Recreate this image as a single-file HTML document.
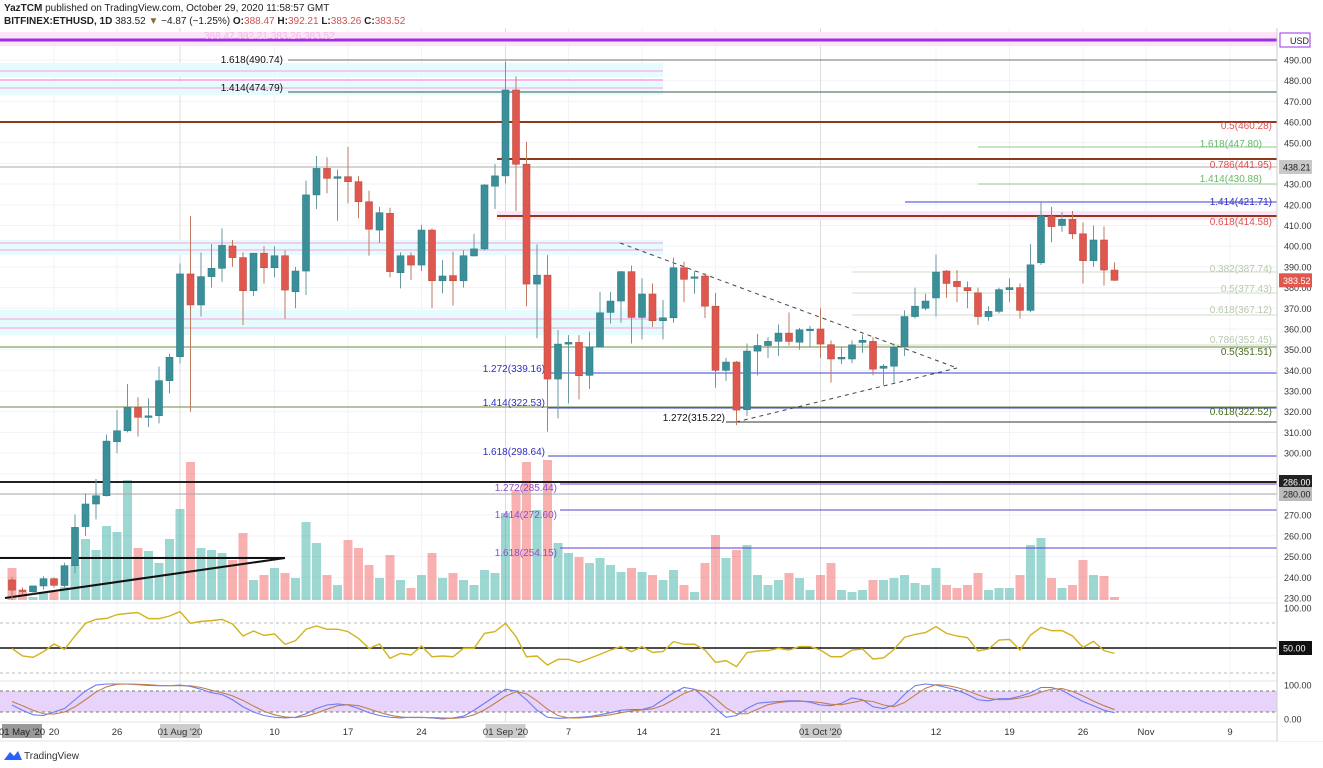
<!DOCTYPE html>
<html><head><meta charset="utf-8"><style>
html,body{margin:0;padding:0;background:#fff;width:1323px;height:768px;overflow:hidden;font-family:"Liberation Sans",sans-serif}
svg text{font-family:"Liberation Sans",sans-serif}
</style></head><body>
<svg id="chart" width="1323" height="768" viewBox="0 0 1323 768" xmlns="http://www.w3.org/2000/svg">
<g id="grid"></g>
<g id="bands">
  <rect x="0" y="32" width="1277" height="14" fill="#fde4f6"/>
  <rect x="0" y="63" width="663" height="14" fill="#e6fbfb"/>
  <rect x="0" y="82" width="663" height="13" fill="#e6fbfb"/>
  <line x1="0" y1="71" x2="663" y2="71" stroke="#ff9be6" stroke-width="1"/>
  <line x1="0" y1="80" x2="663" y2="80" stroke="#ff9be6" stroke-width="1.5"/>
  <line x1="0" y1="88" x2="663" y2="88" stroke="#ff9be6" stroke-width="1"/>
  <rect x="0" y="240" width="663" height="15" fill="#e6fbfb"/>
  <line x1="0" y1="243" x2="663" y2="243" stroke="#ff9be6"/>
  <line x1="0" y1="250" x2="663" y2="250" stroke="#ff9be6"/>
  <rect x="0" y="310" width="663" height="25" fill="#e6fbfb"/>
  <line x1="0" y1="319" x2="663" y2="319" stroke="#ff9be6"/>
  <line x1="0" y1="328" x2="663" y2="328" stroke="#ff9be6"/>
  <rect x="497" y="211" width="780" height="9" fill="#fde4f6"/>
</g>
<g id="vol"></g>
<g id="levels">
  <line x1="0" y1="40" x2="1277" y2="40" stroke="#9b30e6" stroke-width="3"/>
  <line x1="288" y1="60" x2="1277" y2="60" stroke="#707070"/>
  <line x1="288" y1="92" x2="1277" y2="92" stroke="#3a5a4a"/>
  <line x1="0" y1="122" x2="1277" y2="122" stroke="#8b3b1c" stroke-width="2"/>
  <line x1="978" y1="147" x2="1277" y2="147" stroke="#8fc98f"/>
  <line x1="497" y1="159" x2="1277" y2="159" stroke="#8b3b1c" stroke-width="2"/>
  <line x1="0" y1="167" x2="1277" y2="167" stroke="#c8c8c8" stroke-width="1.5"/>
  <line x1="978" y1="184" x2="1277" y2="184" stroke="#8fc98f"/>
  <line x1="905" y1="202" x2="1277" y2="202" stroke="#3f3fd0"/>
  <line x1="497" y1="216" x2="1277" y2="216" stroke="#8b3b1c" stroke-width="2"/>
  <line x1="852" y1="272" x2="1277" y2="272" stroke="#d0dcc8"/>
  <line x1="852" y1="293" x2="1277" y2="293" stroke="#d0dcc8"/>
  <line x1="852" y1="315" x2="1277" y2="315" stroke="#d0dcc8"/>
  <line x1="852" y1="345" x2="1277" y2="345" stroke="#d0dcc8"/>
  <line x1="0" y1="347" x2="1277" y2="347" stroke="#6a8a40"/>
  <line x1="548" y1="373" x2="1277" y2="373" stroke="#3f3fd0"/>
  <line x1="0" y1="407" x2="1277" y2="407" stroke="#6a8a40"/>
  <line x1="548" y1="408" x2="1277" y2="408" stroke="#3f3fd0"/>
  <line x1="726" y1="422" x2="1277" y2="422" stroke="#333"/>
  <line x1="548" y1="456" x2="1277" y2="456" stroke="#3f3fd0"/>
  <line x1="0" y1="482" x2="1277" y2="482" stroke="#222" stroke-width="2"/>
  <line x1="560" y1="484" x2="1277" y2="484" stroke="#7a3fd0"/>
  <line x1="0" y1="494" x2="1277" y2="494" stroke="#aaa"/>
  <line x1="560" y1="510" x2="1277" y2="510" stroke="#5a3fd0"/>
  <line x1="560" y1="548" x2="1277" y2="548" stroke="#5a3fd0"/>
  <line x1="0" y1="558" x2="285" y2="558" stroke="#111" stroke-width="2"/>
  <line x1="5" y1="598" x2="285" y2="558" stroke="#111" stroke-width="2"/>
  <line x1="620" y1="243" x2="957" y2="368" stroke="#444" stroke-dasharray="4,4"/>
  <line x1="736" y1="422" x2="957" y2="368" stroke="#444" stroke-dasharray="4,4"/>
</g>
<g id="levlabels" font-size="10">
  <text x="283" y="63" text-anchor="end" fill="#111">1.618(490.74)</text>
  <text x="283" y="91" text-anchor="end" fill="#111">1.414(474.79)</text>
  <text x="1272" y="129" text-anchor="end" fill="#e05050">0.5(460.28)</text>
  <text x="1262" y="147" text-anchor="end" fill="#6bb86b">1.618(447.80)</text>
  <text x="1272" y="168" text-anchor="end" fill="#e05050">0.786(441.95)</text>
  <text x="1262" y="182" text-anchor="end" fill="#6bb86b">1.414(430.88)</text>
  <text x="1272" y="205" text-anchor="end" fill="#3030c0">1.414(421.71)</text>
  <text x="1272" y="225" text-anchor="end" fill="#e05050">0.618(414.58)</text>
  <text x="1272" y="272" text-anchor="end" fill="#b8c8b0">0.382(387.74)</text>
  <text x="1272" y="292" text-anchor="end" fill="#b8c8b0">0.5(377.43)</text>
  <text x="1272" y="313" text-anchor="end" fill="#b8c8b0">0.618(367.12)</text>
  <text x="1272" y="343" text-anchor="end" fill="#b8c8b0">0.786(352.45)</text>
  <text x="1272" y="355" text-anchor="end" fill="#4a6a20">0.5(351.51)</text>
  <text x="545" y="372" text-anchor="end" fill="#3030c0">1.272(339.16)</text>
  <text x="545" y="406" text-anchor="end" fill="#3030c0">1.414(322.53)</text>
  <text x="1272" y="415" text-anchor="end" fill="#4a6a20">0.618(322.52)</text>
  <text x="725" y="421" text-anchor="end" fill="#111">1.272(315.22)</text>
  <text x="545" y="455" text-anchor="end" fill="#3030c0">1.618(298.64)</text>
  <text x="557" y="491" text-anchor="end" fill="#8a4fd0">1.272(285.44)</text>
  <text x="557" y="518" text-anchor="end" fill="#8a4fd0">1.414(272.60)</text>
  <text x="557" y="556" text-anchor="end" fill="#8a4fd0">1.618(254.15)</text>
</g>
<g id="candles"></g>
<g id="panes">
  <line x1="0" y1="603" x2="1277" y2="603" stroke="#e0e3eb"/>
  <line x1="0" y1="623" x2="1277" y2="623" stroke="#bbb" stroke-dasharray="3,3"/>
  <line x1="0" y1="673" x2="1277" y2="673" stroke="#bbb" stroke-dasharray="3,3"/>
  <line x1="0" y1="648" x2="1277" y2="648" stroke="#111" stroke-width="1.5"/>
  <line x1="0" y1="681" x2="1277" y2="681" stroke="#e0e3eb"/>
  <rect x="0" y="691" width="1277" height="21" fill="#e8d4fb"/>
  <line x1="0" y1="691" x2="1277" y2="691" stroke="#777" stroke-dasharray="3,3"/>
  <line x1="0" y1="712" x2="1277" y2="712" stroke="#777" stroke-dasharray="3,3"/>
  <line x1="0" y1="722" x2="1277" y2="722" stroke="#e0e3eb"/>
  <line x1="0" y1="741" x2="1323" y2="741" stroke="#e0e3eb"/>
</g>
<g id="ind"></g>
<g id="axis">
  <rect x="1277" y="28" width="46" height="713" fill="#fff"/>
  <line x1="1277" y1="28" x2="1277" y2="741" stroke="#ccc"/>
</g>
<g id="xaxis" font-size="10" fill="#333"></g>
<g id="hdr">
  <text x="4" y="11" font-size="10" fill="#222"><tspan font-weight="bold">YazTCM</tspan> published on TradingView.com, October 29, 2020 11:58:57 GMT</text>
  <text x="4" y="24" font-size="10" fill="#222"><tspan font-weight="bold">BITFINEX:ETHUSD, 1D</tspan> 383.52 <tspan fill="#8b6b3b">▼</tspan> −4.87 (−1.25%) <tspan font-weight="bold">O:</tspan><tspan fill="#d05050">388.47</tspan> <tspan font-weight="bold">H:</tspan><tspan fill="#d05050">392.21</tspan> <tspan font-weight="bold">L:</tspan><tspan fill="#d05050">383.26</tspan> <tspan font-weight="bold">C:</tspan><tspan fill="#d05050">383.52</tspan></text>
  <text x="204" y="39" font-size="10" fill="#f5b8ea">388.47   392.21   383.26   383.52</text>
  <rect x="1280" y="33" width="30" height="14" fill="#fff" stroke="#9b30e6"/>
  <text x="1290" y="44" font-size="9" fill="#222">USD</text>
  <g>
    <path d="M4 760 l6 -8 l4 4 l4 -5 l4 9 z" fill="#2962ff"/>
    <text x="24" y="759" font-size="10" fill="#333">TradingView</text>
  </g>
</g>
</svg>
<script>
const opens = [238.7,233.8,233,235.8,239.3,236,245.6,264.5,275.4,279.4,305.5,310.8,322,317.6,318.1,335,
346.6,386.6,371.6,385.3,389.3,400.1,394.5,378.5,396.6,389.6,395.4,378,388,424.8,437.6,432.8,433.6,431.2,421.5,407.8,415.9,387.2,395.4,390.9,407.8,383.3,385.8,383.3,395.3,398.7,429,
434,475.5,439.6,381.7,386,335.8,352.7,353.5,337.6,351.3,368,373.5,387.7,365.6,376.9,364,365.4,389.6,384.5,385.6,371,340,344,321,349.3,352,354,358,353.6,359.6,
360,352.4,345.5,345.5,353.5,354,341,342,351.6,366,370,375,388,383,380,377.5,366,368.5,379,380,369,392,414.5,410,413,406,393,403,388.47];
const highs = [240,235,236,240.5,240,247,270.4,280.6,287.5,309,320.8,333.4,327,326.5,341.8,348,
391.7,414.6,396.9,401,408.6,403,397,396.6,400,400,398,390,431.7,443.6,443,437,448,434,426.8,419,418.6,397,397,410.3,408.6,393.3,397.4,398,406,430,439.7,
489.2,482,450.5,400.9,395.7,359.5,357,357,358.7,378,378,388,390.6,384.5,382,374,394.5,392.5,388,387,377.4,346,344.5,353,357.6,356,362.2,368,360.5,361.5,
370,354.5,351,354.5,357.4,356,343,353,369,380,377,396,388.5,388.5,383,380,371,380,384.5,382,401,421,419,416.5,417,411.5,410,409.5,392.21];
const lows = [229,232,232,234,235,235,242,260,268,279,300,310,308,312.5,314.4,328.9,
343.4,320,366,380,382.8,390,361.9,376,382,385,365,370,376.4,418,425.6,412.3,420.7,413.5,395.4,401.7,385,379.6,383.7,388,370,377.2,371.3,380,395,398,418,
430.4,417,371,355.5,310.4,316.8,324,326,331,351,362.6,363,353,355,361,355,363,373,377,365.3,331.6,335,313.5,318,337.5,346,347,352,350,351,
346,334,343,343.5,348.5,337.6,333,334,347,365,369,366,375,373,370,362,364,367.5,373,365,368,391,402,407,403.5,382,390,381,383.26];
const closes = [233.8,233.5,235.8,239.3,236.1,245.6,264.1,275.4,279.4,305.8,310.8,322,317.3,318,335,346.3,
386.6,371.6,385.3,389.3,400.4,394.5,378.5,396.6,389.6,395.4,378.8,388,424.8,437.6,432.8,433.6,431.2,421.5,408.2,416.2,387.7,395.4,390.9,407.8,383.3,385.6,383.3,395.4,398.7,429.6,434,
475.5,439.6,381.7,386,335.8,352.7,353.5,337.4,351.3,367.8,373.5,387.7,365.6,376.9,364,365.4,389.6,384,385.2,371,340,344,320.8,349.3,352,354,358,354,359.6,359.9,
352.7,345.5,346.3,352.3,354.5,340.6,342,351,366,371,373.5,387.5,382,380.5,378.5,366,368.5,379,380,369,391,414.6,409.5,413,406,393,403,388.5,383.52];
const volumes = [32,8,3,8,8,13,35,61,50,74,68,120,52,49,37,61,
91,138,52,50,47,40,67,20,25,32,27,22,78,57,25,15,60,52,35,22,45,20,12,25,47,22,27,20,15,30,27,
87,110,138,90,140,57,47,43,37,42,35,28,32,28,25,20,30,15,8,37,65,42,50,55,25,15,20,27,22,10,
25,37,10,8,10,20,20,22,25,17,15,32,15,12,15,27,10,12,12,25,55,62,22,12,15,40,25,24,3];
const rsiValues = [49.7,43.6,42.5,47.1,53.2,48.9,59.6,69.7,72.9,73.7,76.7,77.7,78.3,73.5,73.5,75.6,
79.1,69.7,71.3,71.9,72.9,69.2,59.6,63.6,60.1,61.2,52.9,55.9,65,67.6,65,65,63.1,57.7,49.7,53.2,41.7,45.7,44.4,51.6,43,43.6,43,49.7,49.7,61.7,63.1,
69.7,59.1,43,43.6,36.4,40.9,40.9,38.5,41.7,44.9,48.4,51.1,47.1,51.1,46.5,47.1,55.1,53,53,48.4,38.5,39.9,35.1,46.3,47.6,47.9,49.7,48.4,51.1,51.1,
48.4,43,43,48.4,49.2,41.2,42,48.9,58.5,60.9,62.3,67.1,61.7,59.6,58.3,47.6,49.2,56.4,56.9,48.4,60.4,66.5,63.9,63.9,59.6,50.5,55.3,47.9,45.7];
const stochK = [40,25,12,10,20,30,55,80,97,100,100,100,98,96,95,95,
97,93,85,75,70,55,35,20,10,5,3,5,15,30,40,43,40,30,18,10,5,3,5,5,3,0,3,8,25,45,65,
85,80,55,25,5,2,3,5,7,12,18,25,27,27,35,55,75,90,85,60,30,5,10,30,45,48,50,52,52,48,
40,38,45,60,55,35,30,40,70,95,100,97,90,82,70,55,52,58,58,65,75,90,90,82,65,50,38,25,18];
const stochD = [50,38,25,15,14,20,35,55,77,92,99,100,99,98,96,95,
95,95,90,82,75,66,53,37,22,12,6,4,8,17,28,38,41,38,29,19,11,6,4,4,4,3,2,4,12,26,45,
65,78,72,52,28,10,3,3,5,8,12,18,23,26,29,39,55,73,84,78,58,32,15,15,28,41,47,50,51,50,
47,42,41,47,53,50,40,35,47,68,88,98,96,90,81,69,59,55,56,60,66,77,85,87,79,66,51,38,27];
const priceTicks = [490,480,470,460,450,440,430,420,410,400,390,380,370,360,350,340,330,320,310,300,290,280,270,260,250,240,230];
const dateTicks = [[-6,'20'],[0,'26'],[6,"01 Aug '20"],[15,'10'],[22,'17'],[29,'24'],[37,"01 Sep '20"],[43,'7'],[50,'14'],[57,'21'],[67,"01 Oct '20"],[78,'12'],[85,'19'],[92,'26'],[98,'Nov'],[106,'9']];

const NS='http://www.w3.org/2000/svg';
function mk(tag,attrs,parent){const e=document.createElementNS(NS,tag);for(const k in attrs)e.setAttribute(k,attrs[k]);parent.appendChild(e);return e;}
const startIdx=-10;
const xOf=i=>117+10.5*(i+startIdx);
const dx=d=>117+10.5*d;
const yP=p=>60+(490-p)*2.069;
const yR=v=>648-(v-50)*1.25;
const yS=v=>719-v*0.35;
const yV=v=>600-v;
const grid=document.getElementById('grid');
priceTicks.forEach(p=>{const l=mk('line',{x1:0,x2:1277,y1:yP(p),y2:yP(p),stroke:'#f0f3fa'},grid);

});
dateTicks.forEach(t=>{const l=mk('line',{x1:dx(t[0]),x2:dx(t[0]),y1:28,y2:722,stroke:(t[1].length>3?'#ddd':'#f0f3fa')},grid);

});
const vol=document.getElementById('vol'), cg=document.getElementById('candles');
for(let i=0;i<opens.length;i++){
  const up=closes[i]>=opens[i];const x=xOf(i);
  const v=mk('rect',{x:x-4.5,y:yV(volumes[i]),width:9,height:volumes[i],fill:up?'rgba(38,166,154,0.45)':'rgba(239,83,80,0.45)'},vol);
  
  
  const col=up?'#3b8f98':'#e0574f';
  const w=mk('line',{x1:x,x2:x,y1:yP(highs[i]),y2:yP(lows[i]),stroke:up?'#6a9aa0':'#c07a60','stroke-width':1},cg);
  
  
  const top=yP(Math.max(opens[i],closes[i]));const h=Math.max(1.5,Math.abs(yP(opens[i])-yP(closes[i])));
  const b=mk('rect',{x:x-3.5,y:top,width:7,height:h,fill:col,stroke:up?'#2f7f88':'#b85040','stroke-width':0.6},cg);
  
  
}
const ind=document.getElementById('ind');
const pts=(arr,f)=>arr.map((v,i)=>xOf(i)+','+f(v)).join(' ');
const r=mk('polyline',{points:pts(rsiValues,yR),fill:'none',stroke:'#d4b320','stroke-width':1.4},ind);


const sk=mk('polyline',{points:pts(stochK,yS),fill:'none',stroke:'#6c7cf0','stroke-width':1.1},ind);


const sd=mk('polyline',{points:pts(stochD,yS),fill:'none',stroke:'#c08050','stroke-width':1.1},ind);


const ax=document.getElementById('axis');
priceTicks.forEach(p=>{if(p===440||p===290)return;const t=mk('text',{x:1284,y:yP(p)+3.5,'font-size':9,fill:'#333'},ax);t.textContent=p.toFixed(2);

});
function box(y,txt,bg,fg,name){const g=mk('g',{},ax);


mk('rect',{x:1279,y:y-7,width:33,height:14,fill:bg},g);const t=mk('text',{x:1283,y:y+3.5,'font-size':9,fill:fg},g);t.textContent=txt;}
box(167,'438.21','#c8c8c8','#222','label-438');
box(yP(383.52),'383.52','#e0574f','#fff','last-price-label');
box(482,'286.00','#222','#fff','label-286');
box(494,'280.00','#bbb','#222','label-280');
box(648,'50.00','#111','#fff','rsi-50-label');
[[608,'100.00'],[685,'100.00'],[719,'0.00']].forEach(a=>{const t=mk('text',{x:1284,y:a[0]+3.5,'font-size':9,fill:'#333'},ax);t.textContent=a[1];

});
const xa=document.getElementById('xaxis');
dateTicks.forEach(t=>{const x=dx(t[0]);const big=t[1].length>3;
if(big){mk('rect',{x:x-20,y:724,width:40,height:14,fill:'#ccc'},xa);}
const e=mk('text',{x:x,y:735,'text-anchor':'middle','font-size':9.5,fill:'#333'},xa);e.textContent=t[1];

});
mk('rect',{x:2,y:724,width:40,height:14,fill:'#999'},xa);
const mt=mk('text',{x:22,y:735,'text-anchor':'middle','font-size':9.5,fill:'#222'},xa);mt.textContent="01 May '20";


</script>
</body></html>
